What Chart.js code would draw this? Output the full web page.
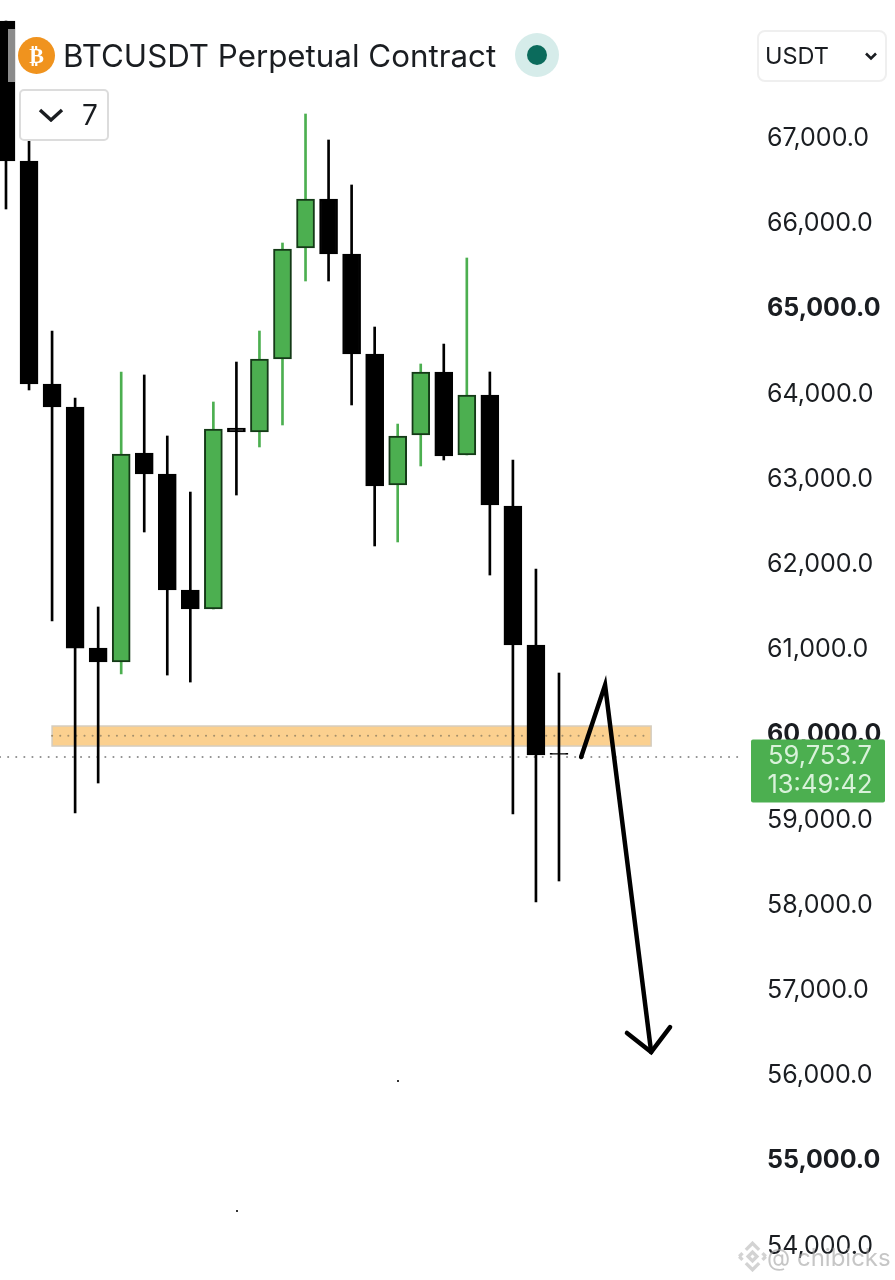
<!DOCTYPE html>
<html>
<head>
<meta charset="utf-8">
<script src="https://cdn.jsdelivr.net/npm/chart.js@4"></script>
<style>
  html, body { margin: 0; background: #fff; }
  #wrap { position: relative; width: 895px; height: 1280px; overflow: hidden; font-family: Inter, "Liberation Sans", sans-serif; color: #1a1d21; }
  canvas { position: absolute; left: 0; top: 0; }
  .abs { position: absolute; }
  #scroll { left: 8px; top: 29px; width: 7px; height: 53px; background: #8b8b8b; }
  #coin { left: 18px; top: 37px; width: 37px; height: 37px; border-radius: 50%; background: #f0931e; color: #fff; font: bold 22px/37px "DejaVu Sans"; text-align: center; }
  #title { left: 63px; top: 36px; font-size: 31.3px; line-height: 40px; white-space: nowrap; }
  #ring { left: 515px; top: 33px; width: 44px; height: 44px; border-radius: 50%; background: #d6ecea; }
  #dot { left: 527px; top: 45px; width: 20px; height: 20px; border-radius: 50%; background: #0b6b5c; }
  #period { left: 19px; top: 89px; border: 2px solid #dcdcdc; border-radius: 5px; background: rgba(255,255,255,0.82); width: 86px; height: 48px; }
  #period span { position: absolute; left: 61px; top: 6px; font-size: 28px; line-height: 36px; }
  #period svg { position: absolute; left: 17px; top: 17px; }
  #unit { left: 757px; top: 30px; width: 126px; height: 48px; border: 2px solid #efefef; border-radius: 8px; }
  #unit span { position: absolute; left: 6px; top: 6px; font-size: 23.5px; line-height: 36px; }
  #unit svg { position: absolute; left: 106px; top: 20px; }
  #mark { left: 767px; top: 1243px; font-size: 24px; line-height: 30px; color: rgba(160,160,160,0.6); white-space: nowrap; }
  #logo { left: 737px; top: 1241px; }
  .speck { width: 2px; height: 2px; background: #333; }
</style>
</head>
<body>
<div id="wrap">
  <canvas id="chart" width="895" height="1280"></canvas>
  <div class="abs" id="scroll"></div>
  <div class="abs" id="coin">₿</div>
  <div class="abs" id="title">BTCUSDT Perpetual Contract</div>
  <div class="abs" id="ring"></div>
  <div class="abs" id="dot"></div>
  <div class="abs" id="period">
    <svg width="26" height="14" viewBox="0 0 26 14"><path d="M2 2 L13 12 L24 2" fill="none" stroke="#1a1d21" stroke-width="3.4"/></svg>
    <span>7</span>
  </div>
  <div class="abs" id="unit">
    <span>USDT</span>
    <svg width="12" height="9" viewBox="0 0 12 9"><path d="M1 1.5 L6 6.5 L11 1.5" fill="none" stroke="#1a1d21" stroke-width="2.6"/></svg>
  </div>
  <svg class="abs" id="logo" width="31" height="31" viewBox="0 0 28 28" fill="none" stroke="rgba(175,175,175,0.55)" stroke-width="3">
    <path d="M8 8 L14 2 L20 8 M2 14 L5 11 M2 14 L5 17 M26 14 L23 11 M26 14 L23 17 M10 14 L14 10 L18 14 L14 18 Z M8 20 L14 26 L20 20"/>
  </svg>
  <div class="abs" id="mark">@ chibicks</div>
  <div class="abs speck" style="left:397px;top:1080px"></div>
  <div class="abs speck" style="left:236px;top:1210px"></div>
</div>
<script>
const candleOpen = [68361, 66718, 64101, 63831, 61002, 60838, 63291, 63045, 61683, 61460, 63585, 63538, 64394, 65697, 66272, 65627, 64453, 62916, 63502, 64242, 63268, 63972, 62669, 61038, 59765];
const candleClose = [66718, 64101, 63831, 61002, 60838, 63279, 63045, 61683, 61460, 63573, 63538, 64394, 65685, 66272, 65627, 64453, 62904, 63491, 64242, 63256, 63972, 62681, 61038, 59747, 59753.7];
const candleHigh = [68361, 66965, 64723, 63937, 61484, 64242, 64207, 63491, 62833, 63890, 64359, 64723, 65756, 67270, 66965, 66437, 64770, 63631, 64336, 64570, 65580, 64242, 63209, 61930, 60709];
const candleLow = [66155, 64031, 61319, 59066, 59418, 60697, 62364, 60685, 60603, 61460, 62798, 63362, 63620, 65310, 65310, 63855, 62200, 62247, 63139, 63209, 63268, 61859, 59054, 58021, 58268];

const yTicks = [54000, 55000, 56000, 57000, 58000, 59000, 60000, 61000, 62000, 63000, 64000, 65000, 66000, 67000];
const yTicksBold = [55000, 60000, 65000];
const lastPrice = 59753.7;
const countdown = '13:49:42';

const zoneTop = 60087;
const zoneBottom = 59852;
const zoneMid = 59972;
const zoneStart = 2;
const zoneEnd = 28;

const arrowShaft = [{x: 24.96, y: 59723}, {x: 26, y: 60568}, {x: 28, y: 56261}];
const arrowHead = [{x: 26.95, y: 56484}, {x: 28, y: 56261}, {x: 28.82, y: 56554}];

const green = '#4caf50';
const greenEdge = '#143a17';
const black = '#000000';

function isUp(i) { return candleClose[i] >= candleOpen[i]; }

const wicks = candleHigh.map((h, i) => ({x: i, y: [candleLow[i], h]}));
const bodies = candleOpen.map((o, i) => ({x: i, y: [o, candleClose[i]]}));

const zonePlugin = {
  id: 'zone',
  beforeDatasetsDraw(chart) {
    const {x, y} = chart.scales;
    const c = chart.ctx;
    const left = x.getPixelForValue(zoneStart);
    const right = x.getPixelForValue(zoneEnd);
    const top = y.getPixelForValue(zoneTop);
    const bottom = y.getPixelForValue(zoneBottom);
    c.save();
    c.fillStyle = '#fbd08f';
    c.strokeStyle = '#d5cdbf';
    c.lineWidth = 1.5;
    c.fillRect(left, top, right - left, bottom - top);
    c.strokeRect(left, top, right - left, bottom - top);
    c.restore();
  }
};

const priceTagPlugin = {
  id: 'priceTag',
  afterDraw(chart) {
    const y = chart.scales.y;
    const c = chart.ctx;
    const mid = y.getPixelForValue(lastPrice) + 17;
    c.save();
    c.fillStyle = green;
    c.beginPath();
    c.roundRect(751, mid - 32, 134, 63, 2);
    c.fill();
    c.fillStyle = '#d9f2da';
    c.font = '25.5px Inter';
    c.textAlign = 'center';
    c.textBaseline = 'middle';
    c.fillText(lastPrice.toLocaleString('en-US', {minimumFractionDigits: 1}), 820, mid - 15);
    c.fillText(countdown, 820, mid + 14);
    c.restore();
  }
};

new Chart(document.getElementById('chart'), {
  type: 'bar',
  data: {
    datasets: [
      {
        type: 'line',
        data: [{x: -0.26, y: lastPrice - 30}, {x: 32, y: lastPrice - 30}],
        borderColor: '#8f8f8f',
        borderWidth: 2,
        borderDash: [0.1, 8],
        borderCapStyle: 'round',
        pointRadius: 0,
        order: 6
      },
      {
        type: 'line',
        data: [{x: zoneStart, y: zoneMid}, {x: zoneEnd, y: zoneMid}],
        borderColor: '#a5906c',
        borderWidth: 2,
        borderDash: [0.1, 8],
        borderCapStyle: 'round',
        pointRadius: 0,
        order: 5
      },
      {
        data: wicks,
        grouped: false,
        barThickness: 2,
        backgroundColor: wicks.map((w, i) => isUp(i) ? green : black),
        order: 4
      },
      {
        data: bodies,
        grouped: false,
        barThickness: 18,
        backgroundColor: bodies.map((b, i) => isUp(i) ? green : black),
        borderColor: bodies.map((b, i) => isUp(i) ? greenEdge : black),
        borderWidth: 2,
        borderSkipped: false,
        order: 3
      },
      {
        type: 'line',
        data: arrowShaft,
        borderColor: black,
        borderWidth: 4.5,
        borderCapStyle: 'round',
        borderJoinStyle: 'miter',
        pointRadius: 0,
        order: 2
      },
      {
        type: 'line',
        data: arrowHead,
        borderColor: black,
        borderWidth: 4.5,
        borderCapStyle: 'round',
        borderJoinStyle: 'miter',
        pointRadius: 0,
        order: 1
      }
    ]
  },
  options: {
    responsive: false,
    animation: false,
    devicePixelRatio: 1,
    layout: {padding: 0},
    plugins: {legend: {display: false}, tooltip: {enabled: false}},
    scales: {
      x: {
        type: 'linear',
        display: false,
        offset: false,
        min: -0.26,
        max: 32.29
      },
      y: {
        position: 'right',
        min: 53585,
        max: 68608,
        afterBuildTicks(scale) { scale.ticks = yTicks.map(value => ({value})); },
        afterFit(scale) {
          scale.width = 145;
          // labels stay inside the plot height, no extra room needed
          scale.paddingTop = 0;
          scale.paddingBottom = 0;
        },
        border: {display: false},
        grid: {display: false, drawTicks: false},
        ticks: {
          autoSkip: false,
          padding: 17,
          labelOffset: 1.5,
          color: '#1a1d21',
          font: ctx => ({
            family: 'Inter',
            size: 25,
            weight: ctx.tick && yTicksBold.includes(ctx.tick.value) ? 'bold' : 'normal'
          }),
          callback: v => v.toLocaleString('en-US', {minimumFractionDigits: 1})
        }
      }
    }
  },
  plugins: [zonePlugin, priceTagPlugin]
});
</script>
</body>
</html>
